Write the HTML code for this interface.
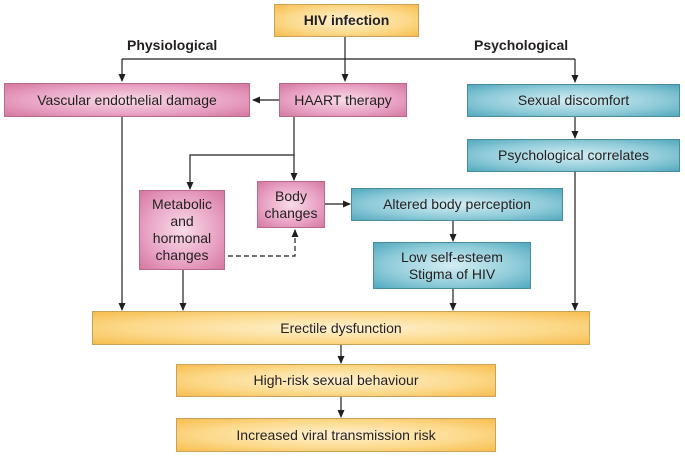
<!DOCTYPE html>
<html><head><meta charset="utf-8"><style>
body{margin:0;width:685px;height:457px;background:#fff;position:relative;overflow:hidden;font-family:"Liberation Sans",sans-serif;}
.b{position:absolute;box-sizing:border-box;display:flex;align-items:center;justify-content:center;text-align:center;font-size:14px;color:#231f20;line-height:17px;}
.o{background:radial-gradient(ellipse at center,#fef2d2 0%,#fcd98a 60%,#f7bd4f 100%);border:1px solid #c9a25a;}
.p{background:radial-gradient(ellipse at center,#f8dbe8 0%,#e8a2c3 60%,#d6779f 100%);border:1px solid #b86a8c;}
.t{background:radial-gradient(ellipse at center,#d4eef3 0%,#8fcbd9 60%,#52a9be 100%);border:1px solid #4a8b9b;}
.l{position:absolute;font-weight:bold;font-size:14px;color:#231f20;}
svg{position:absolute;left:0;top:0;}
</style></head><body>
<svg width="685" height="457">
<defs><marker id="a" markerWidth="8" markerHeight="8" refX="7" refY="4" orient="auto" markerUnits="userSpaceOnUse"><path d="M0,0.5 L8,4 L0,7.5z" fill="#231f20"/></marker></defs>
<g stroke="#231f20" stroke-width="1.2" fill="none">
<path d="M345,37 V81" marker-end="url(#a)"/>
<path d="M122,59 H575"/>
<path d="M122,59 V81" marker-end="url(#a)"/>
<path d="M575,59 V82" marker-end="url(#a)"/>
<path d="M279,100 H253" marker-end="url(#a)"/>
<path d="M575,117 V138" marker-end="url(#a)"/>
<path d="M294,117 V180" marker-end="url(#a)"/>
<path d="M294,155 H190 V189" marker-end="url(#a)"/>
<path d="M325,204 H350" marker-end="url(#a)"/>
<path d="M453,220 V241" marker-end="url(#a)"/>
<path d="M228,256 H295 V230" stroke-dasharray="5,3" marker-end="url(#a)"/>
<path d="M122,117 V310" marker-end="url(#a)"/>
<path d="M183,270 V310" marker-end="url(#a)"/>
<path d="M453,289 V310" marker-end="url(#a)"/>
<path d="M575,172 V310" marker-end="url(#a)"/>
<path d="M341,345 V363" marker-end="url(#a)"/>
<path d="M341,397 V417" marker-end="url(#a)"/>
</g></svg>
<div class="b o" style="left:274px;top:4px;width:145px;height:33px;font-weight:bold;">HIV infection</div>
<div class="l" style="left:127px;top:37px;">Physiological</div>
<div class="l" style="left:474px;top:37px;">Psychological</div>
<div class="b p" style="left:4px;top:83px;width:246px;height:34px;">Vascular endothelial damage</div>
<div class="b p" style="left:279px;top:83px;width:128px;height:34px;">HAART therapy</div>
<div class="b t" style="left:467px;top:84px;width:213px;height:33px;">Sexual discomfort</div>
<div class="b t" style="left:467px;top:139px;width:213px;height:33px;">Psychological correlates</div>
<div class="b p" style="left:139px;top:190px;width:86px;height:80px;">Metabolic<br>and<br>hormonal<br>changes</div>
<div class="b p" style="left:257px;top:181px;width:68px;height:47px;">Body<br>changes</div>
<div class="b t" style="left:351px;top:188px;width:212px;height:33px;">Altered body perception</div>
<div class="b t" style="left:373px;top:242px;width:158px;height:47px;">Low self-esteem<br>Stigma of HIV</div>
<div class="b o" style="left:92px;top:311px;width:498px;height:34px;">Erectile dysfunction</div>
<div class="b o" style="left:176px;top:364px;width:320px;height:33px;">High-risk sexual behaviour</div>
<div class="b o" style="left:176px;top:418px;width:320px;height:34px;">Increased viral transmission risk</div>
</body></html>
